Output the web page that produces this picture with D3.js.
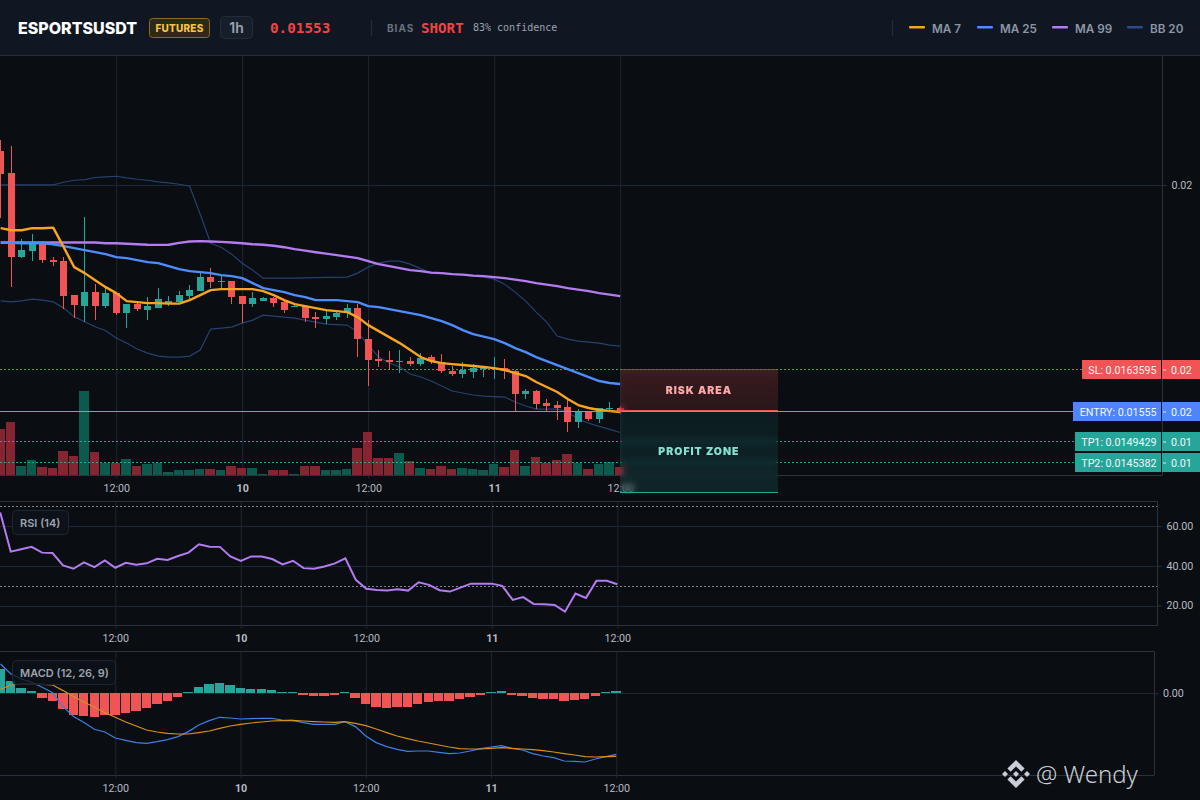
<!DOCTYPE html>
<html><head><meta charset="utf-8">
<script src="https://cdn.jsdelivr.net/npm/d3@7/dist/d3.min.js"></script>
<style>
html,body{margin:0;padding:0;background:#0a0d12;width:1200px;height:800px;overflow:hidden}
svg{position:absolute;left:0;top:0}
.zone{position:absolute;box-sizing:border-box;display:flex;align-items:center;justify-content:center;font:900 10.5px Inter,sans-serif;letter-spacing:1px;backdrop-filter:blur(3px);-webkit-backdrop-filter:blur(3px)}
</style></head><body>
<script>
const opens=[0.020667,0.020233,0.018573,0.018691,0.018829,0.018513,0.018494,0.017822,0.017604,0.017881,0.017604,0.017861,0.017466,0.017644,0.017525,0.017565,0.017664,0.017683,0.017802,0.017901,0.018178,0.018079,0.018098,0.017802,0.017644,0.017703,0.017763,0.017683,0.017585,0.017604,0.017387,0.017348,0.017387,0.017466,0.017565,0.016952,0.016557,0.016538,0.016498,0.016518,0.016458,0.016597,0.016498,0.016320,0.016261,0.016300,0.016360,0.016360,0.016379,0.016320,0.015866,0.015925,0.015688,0.015648,0.015609,0.015313,0.015530,0.015372,0.015569,0.015589];
const highs=[0.020885,0.020766,0.018928,0.019027,0.018889,0.018573,0.018573,0.017822,0.019363,0.018039,0.017960,0.017861,0.017644,0.017664,0.017782,0.017960,0.017802,0.017901,0.018020,0.018257,0.018355,0.018217,0.018098,0.017802,0.017881,0.017782,0.017782,0.017703,0.017624,0.017624,0.017486,0.017525,0.017525,0.017644,0.017644,0.017328,0.016735,0.016715,0.016735,0.016597,0.016676,0.016636,0.016656,0.016419,0.016498,0.016458,0.016379,0.016597,0.016557,0.016340,0.015965,0.015945,0.015767,0.015727,0.015747,0.015569,0.015530,0.015589,0.015708,0.015629];
const lows=[0.019343,0.017980,0.018553,0.018494,0.018454,0.018395,0.017545,0.017367,0.017288,0.017328,0.017565,0.017427,0.017170,0.017506,0.017328,0.017565,0.017604,0.017683,0.017743,0.017901,0.017960,0.017921,0.017644,0.017269,0.017585,0.017703,0.017585,0.017466,0.017585,0.017288,0.017170,0.017249,0.017328,0.017367,0.016597,0.016024,0.016399,0.016340,0.016281,0.016419,0.016419,0.016458,0.016281,0.016221,0.016182,0.016182,0.016202,0.016162,0.016162,0.015530,0.015767,0.015569,0.015530,0.015352,0.015115,0.015194,0.015332,0.015293,0.015550,0.015471];
const closes=[0.020213,0.018573,0.018711,0.018829,0.018513,0.018474,0.017802,0.017624,0.017881,0.017604,0.017861,0.017466,0.017644,0.017545,0.017604,0.017743,0.017703,0.017822,0.017921,0.018178,0.018079,0.018098,0.017782,0.017644,0.017763,0.017763,0.017664,0.017525,0.017604,0.017367,0.017348,0.017407,0.017466,0.017565,0.016952,0.016538,0.016518,0.016498,0.016518,0.016458,0.016577,0.016518,0.016320,0.016261,0.016340,0.016379,0.016379,0.016379,0.016320,0.015866,0.015925,0.015668,0.015629,0.015589,0.015313,0.015530,0.015372,0.015589,0.015589,0.015510];
const volumes=[460,530,90,150,80,70,240,190,840,230,120,120,160,90,110,120,30,50,50,60,60,50,90,70,70,10,50,50,10,90,90,50,50,60,270,430,170,170,220,140,70,60,90,60,70,60,50,110,80,250,90,180,120,150,210,120,60,110,130,80];
const ma7=[0.019146,0.019106,0.019106,0.019146,0.019146,0.019156,0.018770,0.018375,0.018257,0.018118,0.017980,0.017861,0.017703,0.017683,0.017664,0.017664,0.017654,0.017654,0.017723,0.017822,0.017921,0.017940,0.017940,0.017940,0.017940,0.017901,0.017822,0.017723,0.017644,0.017604,0.017565,0.017525,0.017506,0.017486,0.017387,0.017229,0.017110,0.016992,0.016873,0.016735,0.016597,0.016518,0.016478,0.016458,0.016439,0.016419,0.016399,0.016379,0.016340,0.016281,0.016221,0.016103,0.016004,0.015905,0.015767,0.015648,0.015589,0.015550,0.015530,0.015510];
const ma25=[0.018869,0.018859,0.018849,0.018849,0.018849,0.018829,0.018790,0.018751,0.018711,0.018671,0.018632,0.018573,0.018553,0.018513,0.018474,0.018454,0.018395,0.018336,0.018296,0.018276,0.018257,0.018217,0.018197,0.018158,0.018059,0.017960,0.017921,0.017881,0.017822,0.017782,0.017723,0.017723,0.017723,0.017703,0.017683,0.017604,0.017585,0.017545,0.017506,0.017466,0.017427,0.017367,0.017308,0.017229,0.017130,0.017051,0.017002,0.016952,0.016873,0.016775,0.016696,0.016597,0.016518,0.016439,0.016360,0.016281,0.016202,0.016123,0.016083,0.016063];
const ma99=[0.018855,0.018863,0.018863,0.018863,0.018863,0.018863,0.018863,0.018863,0.018863,0.018863,0.018849,0.018849,0.018839,0.018829,0.018819,0.018815,0.018819,0.018855,0.018883,0.018889,0.018883,0.018875,0.018863,0.018849,0.018829,0.018819,0.018799,0.018770,0.018731,0.018701,0.018671,0.018642,0.018612,0.018583,0.018553,0.018494,0.018434,0.018395,0.018355,0.018316,0.018296,0.018267,0.018257,0.018237,0.018227,0.018207,0.018197,0.018178,0.018158,0.018128,0.018098,0.018059,0.018029,0.018000,0.017960,0.017931,0.017901,0.017861,0.017832,0.017802];
const bbUpper=[0.020001,0.020001,0.020001,0.020001,0.020001,0.020001,0.020055,0.020094,0.020108,0.020148,0.020160,0.020173,0.020140,0.020114,0.020094,0.020060,0.020041,0.020015,0.019976,0.019422,0.018849,0.018770,0.018632,0.018454,0.018316,0.018158,0.018158,0.018158,0.018158,0.018164,0.018168,0.018172,0.018174,0.018178,0.018257,0.018375,0.018454,0.018494,0.018494,0.018434,0.018346,0.018257,0.018257,0.018237,0.018217,0.018197,0.018178,0.018138,0.018039,0.017881,0.017703,0.017486,0.017288,0.017012,0.016952,0.016913,0.016893,0.016873,0.016834,0.016814];
const bbLower=[0.017709,0.017690,0.017709,0.017743,0.017723,0.017690,0.017565,0.017393,0.017294,0.017195,0.017116,0.016972,0.016873,0.016755,0.016676,0.016617,0.016597,0.016597,0.016617,0.016735,0.017150,0.017170,0.017190,0.017269,0.017328,0.017427,0.017407,0.017387,0.017367,0.017328,0.017288,0.017249,0.017239,0.017229,0.017091,0.016834,0.016597,0.016478,0.016399,0.016261,0.016202,0.016123,0.016024,0.015925,0.015886,0.015846,0.015826,0.015816,0.015806,0.015708,0.015629,0.015569,0.015569,0.015569,0.015510,0.015372,0.015293,0.015234,0.015174,0.015115];
const rsi=[66.8,47.1,48.3,49.5,46.6,46.4,40.2,38.5,41.7,39.3,42.7,39.0,41.5,40.5,41.2,43.5,42.9,44.9,46.6,50.8,49.6,49.5,44.7,42.4,44.7,44.6,43.4,40.7,42.5,38.8,38.5,39.6,41.2,43.7,32.9,28.4,27.8,27.5,28.2,27.5,31.7,30.4,27.7,27.0,29.0,31.0,31.0,31.0,29.9,22.8,24.2,20.8,20.6,20.3,16.9,26.0,23.8,32.4,32.4,30.7];
const macdLine=[0.000293,0.000193,0.000143,0.000110,0.000060,0.000007,-0.000133,-0.000233,-0.000293,-0.000360,-0.000387,-0.000447,-0.000470,-0.000493,-0.000500,-0.000483,-0.000463,-0.000433,-0.000383,-0.000317,-0.000273,-0.000240,-0.000247,-0.000257,-0.000253,-0.000250,-0.000250,-0.000267,-0.000270,-0.000293,-0.000310,-0.000310,-0.000310,-0.000283,-0.000333,-0.000427,-0.000493,-0.000533,-0.000560,-0.000580,-0.000577,-0.000577,-0.000590,-0.000603,-0.000597,-0.000577,-0.000553,-0.000537,-0.000523,-0.000550,-0.000567,-0.000603,-0.000627,-0.000643,-0.000677,-0.000680,-0.000687,-0.000657,-0.000633,-0.000610];
const macdSignal=[0.000040,0.000083,0.000093,0.000093,0.000090,0.000083,0.000027,-0.000033,-0.000087,-0.000140,-0.000193,-0.000240,-0.000287,-0.000327,-0.000367,-0.000387,-0.000400,-0.000407,-0.000407,-0.000393,-0.000377,-0.000350,-0.000327,-0.000310,-0.000297,-0.000287,-0.000277,-0.000273,-0.000270,-0.000277,-0.000283,-0.000287,-0.000290,-0.000283,-0.000300,-0.000323,-0.000357,-0.000393,-0.000427,-0.000453,-0.000477,-0.000497,-0.000517,-0.000537,-0.000553,-0.000557,-0.000557,-0.000550,-0.000543,-0.000550,-0.000557,-0.000563,-0.000573,-0.000587,-0.000603,-0.000617,-0.000633,-0.000637,-0.000633,-0.000630];
const macdHist=[0.000243,0.000123,0.000053,0.000023,-0.000047,-0.000077,-0.000157,-0.000217,-0.000227,-0.000237,-0.000217,-0.000217,-0.000197,-0.000177,-0.000147,-0.000107,-0.000077,-0.000037,0.000013,0.000063,0.000093,0.000103,0.000083,0.000053,0.000043,0.000043,0.000033,0.000013,0.000013,-0.000017,-0.000027,-0.000027,-0.000017,0.000013,-0.000047,-0.000107,-0.000137,-0.000147,-0.000137,-0.000137,-0.000107,-0.000087,-0.000077,-0.000077,-0.000057,-0.000037,-0.000017,0.000013,0.000023,-0.000017,-0.000027,-0.000047,-0.000057,-0.000057,-0.000077,-0.000067,-0.000057,-0.000027,0.000013,0.000023];
const timeTickIndex=[11,23,35,47,59];
const timeTickLabels=["12:00","10","12:00","11","12:00"];
const dayTicks=["10","11"];
const rsiTicks=[60,40,20];
const rsiBands=[70,30];
const legendNames=["MA 7","MA 25","MA 99","BB 20"];
const legendColors=["#f7a51e","#4d8dff","#b57bf0","#2b4c8c"];
const levelNames=["SL: 0.0163595","ENTRY: 0.01555","TP1: 0.0149429","TP2: 0.0145382"];
const levelShort=["0.02","0.02","0.01","0.01"];
const entry=0.01553, sl=0.0163595, tp1=0.0149429, tp2=0.0145382, zoneFloor=0.013954;
const zoneBars=15;

const UP="#26a69a", DOWN="#f05454", GRID="#1d2734", BORDER="#2a323e", LABEL="#b8bcc4";
const AXF="Roboto,sans-serif", AXS=10.7;
const svg=d3.select("body").append("svg").attr("width",1200).attr("height",800);
const n=opens.length, idx=d3.range(n);

// panes
const xMain=d3.scaleLinear().domain([11,59]).range([116.2,620.2]);
const xRsi=d3.scaleLinear().domain([11,59]).range([115.3,617.3]);
const xMacd=d3.scaleLinear().domain([11,59]).range([115.3,616.3]);
const yMain=d3.scaleLinear().domain([tp2,entry,0.02]).range([462.3,411,185]);
const yVol=d3.scaleLinear().domain([0,840]).range([475,391]);
const yRsi=d3.scaleLinear().domain([20,60]).range([605.5,526]);
const yMacd=d3.scaleLinear().domain([-0.0001,0.0001]).range([703.3,683.3]);

// header
svg.append("rect").attr("width",1200).attr("height",55).attr("fill","#101722");
svg.append("line").attr("x1",0).attr("x2",1200).attr("y1",55.5).attr("y2",55.5).attr("stroke","#252d38");
const T=(x,y,s,o={})=>{const t=svg.append("text").attr("x",x).attr("y",y).text(s)
  .attr("font-family",o.f||"Inter,sans-serif").attr("font-size",o.s||12).attr("font-weight",o.w||400)
  .attr("fill",o.c||"#fff").attr("text-anchor",o.a||"start");
  if(o.ls)t.attr("letter-spacing",o.ls);return t;};
T(18,34,"ESPORTSUSDT",{s:16,w:800,c:"#ffffff"});
svg.append("rect").attr("x",149.5).attr("y",18.5).attr("width",60).attr("height",19).attr("rx",3).attr("fill","#2e2816").attr("stroke","#8a6a24");
T(179.5,32,"FUTURES",{s:10,w:800,c:"#f5c542",a:"middle",ls:0.2});
svg.append("rect").attr("x",220.5).attr("y",16.5).attr("width",32).attr("height",22).attr("rx",4).attr("fill","#161e2a").attr("stroke","#232c3a");
T(236.5,33,"1h",{s:14,w:600,c:"#9aa3af",a:"middle"});
const MONO="'DejaVu Sans Mono',monospace";
T(270,33,"0.01553",{f:MONO,s:14.3,w:700,c:"#ef4444"});
svg.append("line").attr("x1",371.5).attr("x2",371.5).attr("y1",20).attr("y2",36).attr("stroke","#252d38");
T(387,32,"BIAS",{f:"Inter,sans-serif",s:10,w:700,c:"#6b7280",ls:1});
T(421,33,"SHORT",{f:MONO,s:14.2,w:700,c:"#ef4444"});
T(473,31,"83% confidence",{f:MONO,s:10,c:"#9ca3af"});
svg.append("line").attr("x1",892.5).attr("x2",892.5).attr("y1",20).attr("y2",36).attr("stroke","#252d38");
const legX=[909,977,1052,1127];
legendNames.forEach((nm,i)=>{
  svg.append("rect").attr("x",legX[i]).attr("y",26).attr("width",16).attr("height",2.5).attr("rx",1).attr("fill",legendColors[i]);
  T(legX[i]+23,33,nm,{s:11.7,w:600,c:"#8b95a5"});
});

// time axis helper
function timeAxis(x,yTop,yBottom){
  const grid=svg.append("g").attr("transform",`translate(0,${yBottom})`)
    .call(d3.axisBottom(x).tickValues(timeTickIndex).tickSize(3).tickPadding(6.3).tickFormat((d,i)=>timeTickLabels[i]));
  grid.select(".domain").remove();
  grid.selectAll("line").attr("y1",-(yBottom-yTop)).attr("y2",3).attr("stroke",GRID);
  grid.selectAll("text").attr("fill",LABEL).attr("font-family",AXF).attr("font-size",AXS)
    .attr("font-weight",function(){return dayTicks.includes(this.textContent)?700:400;});
}
function hBorder(y,x2){svg.append("line").attr("x1",0).attr("x2",x2).attr("y1",y).attr("y2",y).attr("stroke",BORDER);}
function vBorder(x,y1,y2){svg.append("line").attr("x1",x).attr("x2",x).attr("y1",y1).attr("y2",y2).attr("stroke",BORDER);}

// ===== main pane =====
timeAxis(xMain,56,475.5);
const pAxis=svg.append("g").attr("transform","translate(1162.5,0)")
  .call(d3.axisRight(yMain).tickValues([0.02]).tickSize(4).tickPadding(5).tickFormat(d3.format(".2f")));
pAxis.select(".domain").remove();
pAxis.selectAll("text").attr("fill",LABEL).attr("font-family",AXF).attr("font-size",AXS);
pAxis.selectAll("line").attr("stroke",BORDER);
svg.append("line").attr("x1",0).attr("x2",1162).attr("y1",Math.round(yMain(0.02))+.5).attr("y2",Math.round(yMain(0.02))+.5).attr("stroke",GRID);
hBorder(475.5,1162); vBorder(1162.5,56,475.5);

// volume
svg.append("g").attr("shape-rendering","crispEdges").selectAll("rect").data(idx).join("rect")
  .attr("x",i=>Math.round(xMain(i)-5.5))
  .attr("width",i=>Math.round(xMain(i)+4.2)-Math.round(xMain(i)-5.5))
  .attr("y",i=>yVol(volumes[i])).attr("height",i=>yVol(0)-yVol(volumes[i]))
  .attr("fill",i=>closes[i]>=opens[i]?"#0c5a4e":"#862532");

// price levels
function level(p,c,x2,dash){
  svg.append("line").attr("x1",0).attr("x2",x2).attr("y1",Math.round(yMain(p))+.5).attr("y2",Math.round(yMain(p))+.5)
   .attr("stroke",c).attr("stroke-width",1).attr("stroke-dasharray",dash||null);
}
level(sl,"#d9555a",1082,"2 2");
level(tp1,"#26a69a",1075,"2 2");
level(tp2,"#26a69a",1075,"2 2");

// bands
const lineMain=d3.line().x((d,i)=>xMain(i)).y(d=>yMain(d));
[bbUpper,bbLower].forEach(a=>svg.append("path").attr("d",lineMain(a)).attr("fill","none").attr("stroke","#2b4a80").attr("stroke-opacity",.85).attr("stroke-width",1.2));

// candles
const cg=svg.append("g").attr("shape-rendering","crispEdges");
cg.selectAll(".w").data(idx).join("rect").attr("class","w")
  .attr("x",i=>Math.round(xMain(i)-3.5)+3).attr("width",1)
  .attr("y",i=>yMain(highs[i])).attr("height",i=>yMain(lows[i])-yMain(highs[i]))
  .attr("fill",i=>closes[i]>=opens[i]?UP:DOWN);
cg.selectAll(".b").data(idx).join("rect").attr("class","b")
  .attr("x",i=>Math.round(xMain(i)-3.5)).attr("width",7)
  .attr("y",i=>yMain(Math.max(opens[i],closes[i])))
  .attr("height",i=>Math.max(1,Math.abs(yMain(opens[i])-yMain(closes[i]))))
  .attr("fill",i=>closes[i]>=opens[i]?UP:DOWN);

// moving averages
[[ma99,legendColors[2]],[ma25,legendColors[1]],[ma7,legendColors[0]]].forEach(([a,c])=>
  svg.append("path").attr("d",lineMain(a)).attr("fill","none").attr("stroke",c).attr("stroke-width",2.4).attr("stroke-linejoin","round"));

// entry line
level(entry,"#7299ea",1073);

// right labels
const levelPrices=[sl,entry,tp1,tp2];
const levelColors=["#f05454","#4d86fb","#26a69a","#26a69a"];
const labelLeft=[1082,1073,1075,1075];
levelPrices.forEach((p,i)=>{
  const yc=Math.round(yMain(p))+.5, c=levelColors[i];
  svg.append("rect").attr("x",labelLeft[i]).attr("y",yc-9.5).attr("width",1161-labelLeft[i]).attr("height",19).attr("fill",c);
  svg.append("rect").attr("x",1162).attr("y",yc-9.5).attr("width",38).attr("height",19).attr("fill",c);
  svg.append("rect").attr("x",1163).attr("y",yc).attr("width",3).attr("height",1).attr("fill","#fff").attr("opacity",.8);
  T(1156.5,yc+4,levelNames[i],{f:AXF,s:AXS,c:"#f4f6f8",a:"end"});
  T(1171,yc+4,levelShort[i],{f:AXF,s:AXS,c:"#f4f6f8"});
});

// ===== RSI pane =====
hBorder(501.5,1158); hBorder(625.5,1158); vBorder(1157.5,501.5,625.5);
timeAxis(xRsi,502,625.5);
const rAxis=svg.append("g").attr("transform","translate(1157.5,0)")
  .call(d3.axisRight(yRsi).tickValues(rsiTicks).tickSize(4).tickPadding(5).tickFormat(d3.format(".2f")));
rAxis.select(".domain").remove();
rAxis.selectAll("text").attr("fill",LABEL).attr("font-family",AXF).attr("font-size",AXS);
rAxis.selectAll("line").attr("stroke",BORDER);
rsiTicks.forEach(v=>svg.append("line").attr("x1",0).attr("x2",1157).attr("y1",Math.round(yRsi(v))+.5).attr("y2",Math.round(yRsi(v))+.5).attr("stroke",GRID));
rsiBands.forEach(v=>svg.append("line").attr("x1",0).attr("x2",1157).attr("y1",Math.round(yRsi(v))+.5).attr("y2",Math.round(yRsi(v))+.5).attr("stroke","#7d828a").attr("stroke-dasharray","2 2"));
svg.append("path").attr("d",d3.line().x((d,i)=>xRsi(i)).y(d=>yRsi(d))(rsi)).attr("fill","none").attr("stroke",legendColors[2]).attr("stroke-width",2);
svg.append("rect").attr("x",12.5).attr("y",510.5).attr("width",56).attr("height",24).attr("rx",4).attr("fill","#0d1219").attr("stroke","#1c2531");
T(20,527,"RSI (14)",{s:11,w:600,c:"#9ca3af"});

// ===== MACD pane =====
hBorder(651.5,1154); hBorder(775.5,1154); vBorder(1154.5,651.5,775.5);
timeAxis(xMacd,652,775.5);
const mAxis=svg.append("g").attr("transform","translate(1154.5,0)")
  .call(d3.axisRight(yMacd).tickValues([0]).tickSize(4).tickPadding(4.5).tickFormat(d3.format(".2f")));
mAxis.select(".domain").remove();
mAxis.selectAll("text").attr("fill",LABEL).attr("font-family",AXF).attr("font-size",AXS);
mAxis.selectAll("line").attr("stroke",BORDER);
svg.append("line").attr("x1",0).attr("x2",1154).attr("y1",Math.round(yMacd(0))+.5).attr("y2",Math.round(yMacd(0))+.5).attr("stroke",GRID);
svg.append("g").attr("shape-rendering","crispEdges").selectAll("rect").data(idx).join("rect")
  .attr("x",i=>Math.round(xMacd(i)-4.9)).attr("width",i=>Math.round(xMacd(i)+4.5)-Math.round(xMacd(i)-4.9))
  .attr("y",i=>yMacd(Math.max(0,macdHist[i]))).attr("height",i=>Math.abs(yMacd(macdHist[i])-yMacd(0)))
  .attr("fill",i=>macdHist[i]>=0?UP:DOWN);
const lineMacd=d3.line().x((d,i)=>xMacd(i)).y(d=>yMacd(d));
svg.append("path").attr("d",lineMacd(macdLine)).attr("fill","none").attr("stroke","#3f7fe8").attr("stroke-width",1.2);
svg.append("path").attr("d",lineMacd(macdSignal)).attr("fill","none").attr("stroke","#d98f1e").attr("stroke-width",1.2);
svg.append("rect").attr("x",12.5).attr("y",660.5).attr("width",103).attr("height",24).attr("rx",4).attr("fill","#0d1219").attr("fill-opacity",.75).attr("stroke","#1c2531");
T(20,677,"MACD (12, 26, 9)",{s:11,w:600,c:"#9ca3af"});

// watermark
const lg=svg.append("g").attr("transform","translate(1016,774)").attr("fill","#c9ced6");
[[[0,-14],[8.6,-5.4],[5.4,-2.2],[0,-7.6],[-5.4,-2.2],[-8.6,-5.4]],
 [[0,14],[8.6,5.4],[5.4,2.2],[0,7.6],[-5.4,2.2],[-8.6,5.4]],
 [[0,-3],[3,0],[0,3],[-3,0]],
 [[-11,-3],[-8,0],[-11,3],[-14,0]],
 [[11,-3],[14,0],[11,3],[8,0]]].forEach(p=>lg.append("polygon").attr("points",p.join(" ")));
T(1036,783,"@ Wendy",{f:"'Noto Sans',sans-serif",s:24,w:300,c:"#c9ced6"});

// zone overlays
const zoneX1=xMain(59), zoneX2=xMain(59+zoneBars);
function zone(top,bottom,txt,color,css){
  d3.select("body").append("div").attr("class","zone").text(txt)
    .style("left",zoneX1+"px").style("width",(zoneX2-zoneX1)+"px")
    .style("top",top+"px").style("height",(bottom-top)+"px")
    .style("color",color).style("background",css.bg)
    .style("border-top",css.bt).style("border-bottom",css.bb);
}
zone(yMain(sl),yMain(entry)+.5,"RISK AREA","#fba9a9",{bg:"linear-gradient(rgba(239,83,80,.2),rgba(239,83,80,.14))",bt:"1px solid rgba(239,83,80,.5)",bb:"1.5px solid #ef5350"});
zone(yMain(entry)+.5,yMain(zoneFloor)+.5,"PROFIT ZONE","#84e0cf",{bg:"linear-gradient(rgba(38,166,154,.1),rgba(38,166,154,.16))",bt:"none",bb:"1px solid #26a69a"});
// entry marker
svg.append("circle").attr("cx",xMain(59)).attr("cy",yMain(entry)-1).attr("r",2.5).attr("fill","#ef5350");
</script>
</body></html>
